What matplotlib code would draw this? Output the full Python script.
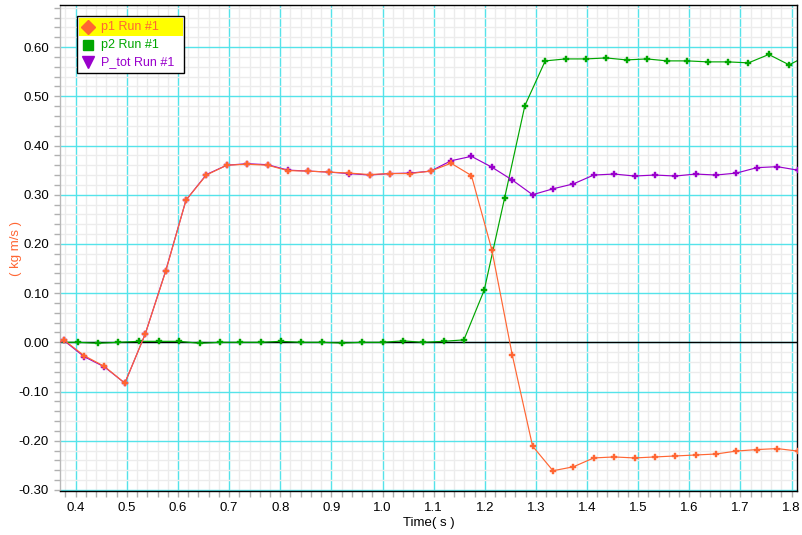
import matplotlib
matplotlib.use("Agg")
import matplotlib.pyplot as plt
from matplotlib.patches import Rectangle
from matplotlib.lines import Line2D
from matplotlib.ticker import MultipleLocator, FormatStrFormatter

# ---- data ----
t1 = [0.3366, 0.3765, 0.4164, 0.4562, 0.4961, 0.5360, 0.5759, 0.6157, 0.6556, 0.6955,
      0.7353, 0.7752, 0.8151, 0.8549, 0.8948, 0.9347, 0.9746, 1.0144, 1.0543, 1.0942,
      1.1340, 1.1739, 1.2138, 1.2536, 1.2935, 1.3334, 1.3733, 1.4131, 1.4530, 1.4929,
      1.5327, 1.5726, 1.6125, 1.6523, 1.6922, 1.7321, 1.7720, 1.8118]
p1 = [-0.020, 0.005, -0.027, -0.049, -0.083, 0.017, 0.144, 0.289, 0.340, 0.360,
      0.362, 0.360, 0.349, 0.348, 0.346, 0.344, 0.341, 0.343, 0.343, 0.348,
      0.364, 0.339, 0.188, -0.025, -0.211, -0.261, -0.253, -0.235, -0.233, -0.235,
      -0.233, -0.231, -0.229, -0.227, -0.221, -0.218, -0.216, -0.221]
p_tot = [-0.020, 0.004, -0.029, -0.050, -0.083, 0.017, 0.145, 0.289, 0.341, 0.360,
         0.363, 0.361, 0.350, 0.348, 0.346, 0.343, 0.340, 0.343, 0.344, 0.348,
         0.369, 0.378, 0.356, 0.330, 0.300, 0.312, 0.322, 0.340, 0.342, 0.338,
         0.340, 0.338, 0.342, 0.340, 0.344, 0.355, 0.357, 0.350]
t2 = [0.3642, 0.4039, 0.4437, 0.4834, 0.5232, 0.5629, 0.6027, 0.6424, 0.6822, 0.7219,
      0.7617, 0.8014, 0.8412, 0.8809, 0.9207, 0.9604, 1.0002, 1.0399, 1.0797, 1.1194,
      1.1592, 1.1989, 1.2387, 1.2784, 1.3182, 1.3579, 1.3977, 1.4374, 1.4772, 1.5169,
      1.5567, 1.5964, 1.6362, 1.6759, 1.7157, 1.7554, 1.7952, 1.8349]
p2 = [0.000, 0.000, -0.002, 0.000, 0.002, 0.002, 0.002, -0.002, 0.000, 0.000,
      0.000, 0.002, 0.000, 0.000, -0.0015, 0.000, 0.000, 0.003, 0.000, 0.002,
      0.005, 0.106, 0.293, 0.481, 0.572, 0.576, 0.576, 0.578, 0.574, 0.576,
      0.572, 0.572, 0.570, 0.570, 0.568, 0.585, 0.564, 0.585]

legend_labels = ["p1 Run #1", "p2 Run #1", "P_tot Run #1"]
x_label = "Time( s )"
y_label = "( kg m/s )"

C_P1 = "#FF6633"
C_P2 = "#00A600"
C_PT = "#9900CC"
C_GRID = "#55E3EA"
C_MINOR = "#ECECEC"

FONT = "Liberation Sans"
W, H = 803, 535
fig = plt.figure(figsize=(W / 100, H / 100), dpi=100)
fig.patch.set_facecolor("white")

L, R, T, B = 60, 797, 5, 491
ax = fig.add_axes([L / W, 1 - B / H, (R - L) / W, (B - T) / H])
ax.set_xlim(0.3693, 1.8106)
ax.set_ylim(-0.3022, 0.6856)

ax.xaxis.set_major_locator(MultipleLocator(0.1))
ax.xaxis.set_minor_locator(MultipleLocator(0.02))
ax.yaxis.set_major_locator(MultipleLocator(0.1))
ax.yaxis.set_minor_locator(MultipleLocator(0.02))
ax.xaxis.set_major_formatter(FormatStrFormatter("%.1f"))
ax.yaxis.set_major_formatter(FormatStrFormatter("%.2f"))

ax.grid(which="minor", color=C_MINOR, lw=1.0, zorder=0)
ax.grid(which="major", color=C_GRID, lw=1.0, zorder=0.5)
ax.set_axisbelow(True)

ax.tick_params(which="both", direction="out", color="#B0B0B0", length=4, width=1)
ax.tick_params(which="major", labelsize=9.5, pad=4)
for lab in ax.get_xticklabels() + ax.get_yticklabels():
    lab.set_fontfamily(FONT)

for s in ["top", "right", "bottom"]:
    ax.spines[s].set_color("black")
    ax.spines[s].set_linewidth(1.0)
ax.spines["left"].set_color("#B8B8B8")
ax.spines["left"].set_linewidth(1.0)

ax.axhline(0, color="black", lw=1.0, zorder=1)

ms = 4.0
lw = 0.85
ax.plot(t2, p2, color=C_P2, lw=lw, marker="P", ms=ms, mec=C_P2, mfc=C_P2, mew=0.3, zorder=2)
ax.plot(t1, p_tot, color=C_PT, lw=lw, marker="P", ms=ms, mec=C_PT, mfc=C_PT, mew=0.3, zorder=3)
ax.plot(t1, p1, color=C_P1, lw=lw, marker="P", ms=ms, mec=C_P1, mfc=C_P1, mew=0.3, zorder=4)

ax.set_xlabel(x_label, fontsize=9.5, fontfamily=FONT)
ax.set_ylabel(y_label, fontsize=9.5, fontfamily=FONT, color=C_P1)
ax.xaxis.set_label_coords(0.5, -0.054)
ax.yaxis.set_label_coords(-0.052, 0.5)

# ---- legend drawn in pixel space ----
def fx(x):
    return x / W

def fy(y):
    return 1 - y / H

fig.add_artist(Rectangle((fx(77.5), fy(73)), (184.5 - 77.5) / W, (73 - 16.5) / H,
                         transform=fig.transFigure, facecolor="white",
                         edgecolor="black", lw=1.0, zorder=10))
fig.add_artist(Rectangle((fx(79), fy(35.7)), (183 - 79) / W, (35.7 - 17.7) / H,
                         transform=fig.transFigure, facecolor="#FFFF00",
                         edgecolor="none", zorder=11))
rows = [27, 45, 62]
markers = ["D", "s", "v"]
colors = [C_P1, C_P2, C_PT]
msz = [7.0, 7.2, 8.5]
for yy, mk, c, lab, s in zip(rows, markers, colors, legend_labels, msz):
    fig.add_artist(Line2D([fx(88)], [fy(yy)], marker=mk, ms=s, color=c, mec=c,
                          transform=fig.transFigure, zorder=12))
    fig.text(fx(101.5), fy(yy), lab, color=c, fontsize=9.0, fontfamily=FONT,
             ha="left", va="center", zorder=12)

fig.savefig("out.png", dpi=100, facecolor="white")
